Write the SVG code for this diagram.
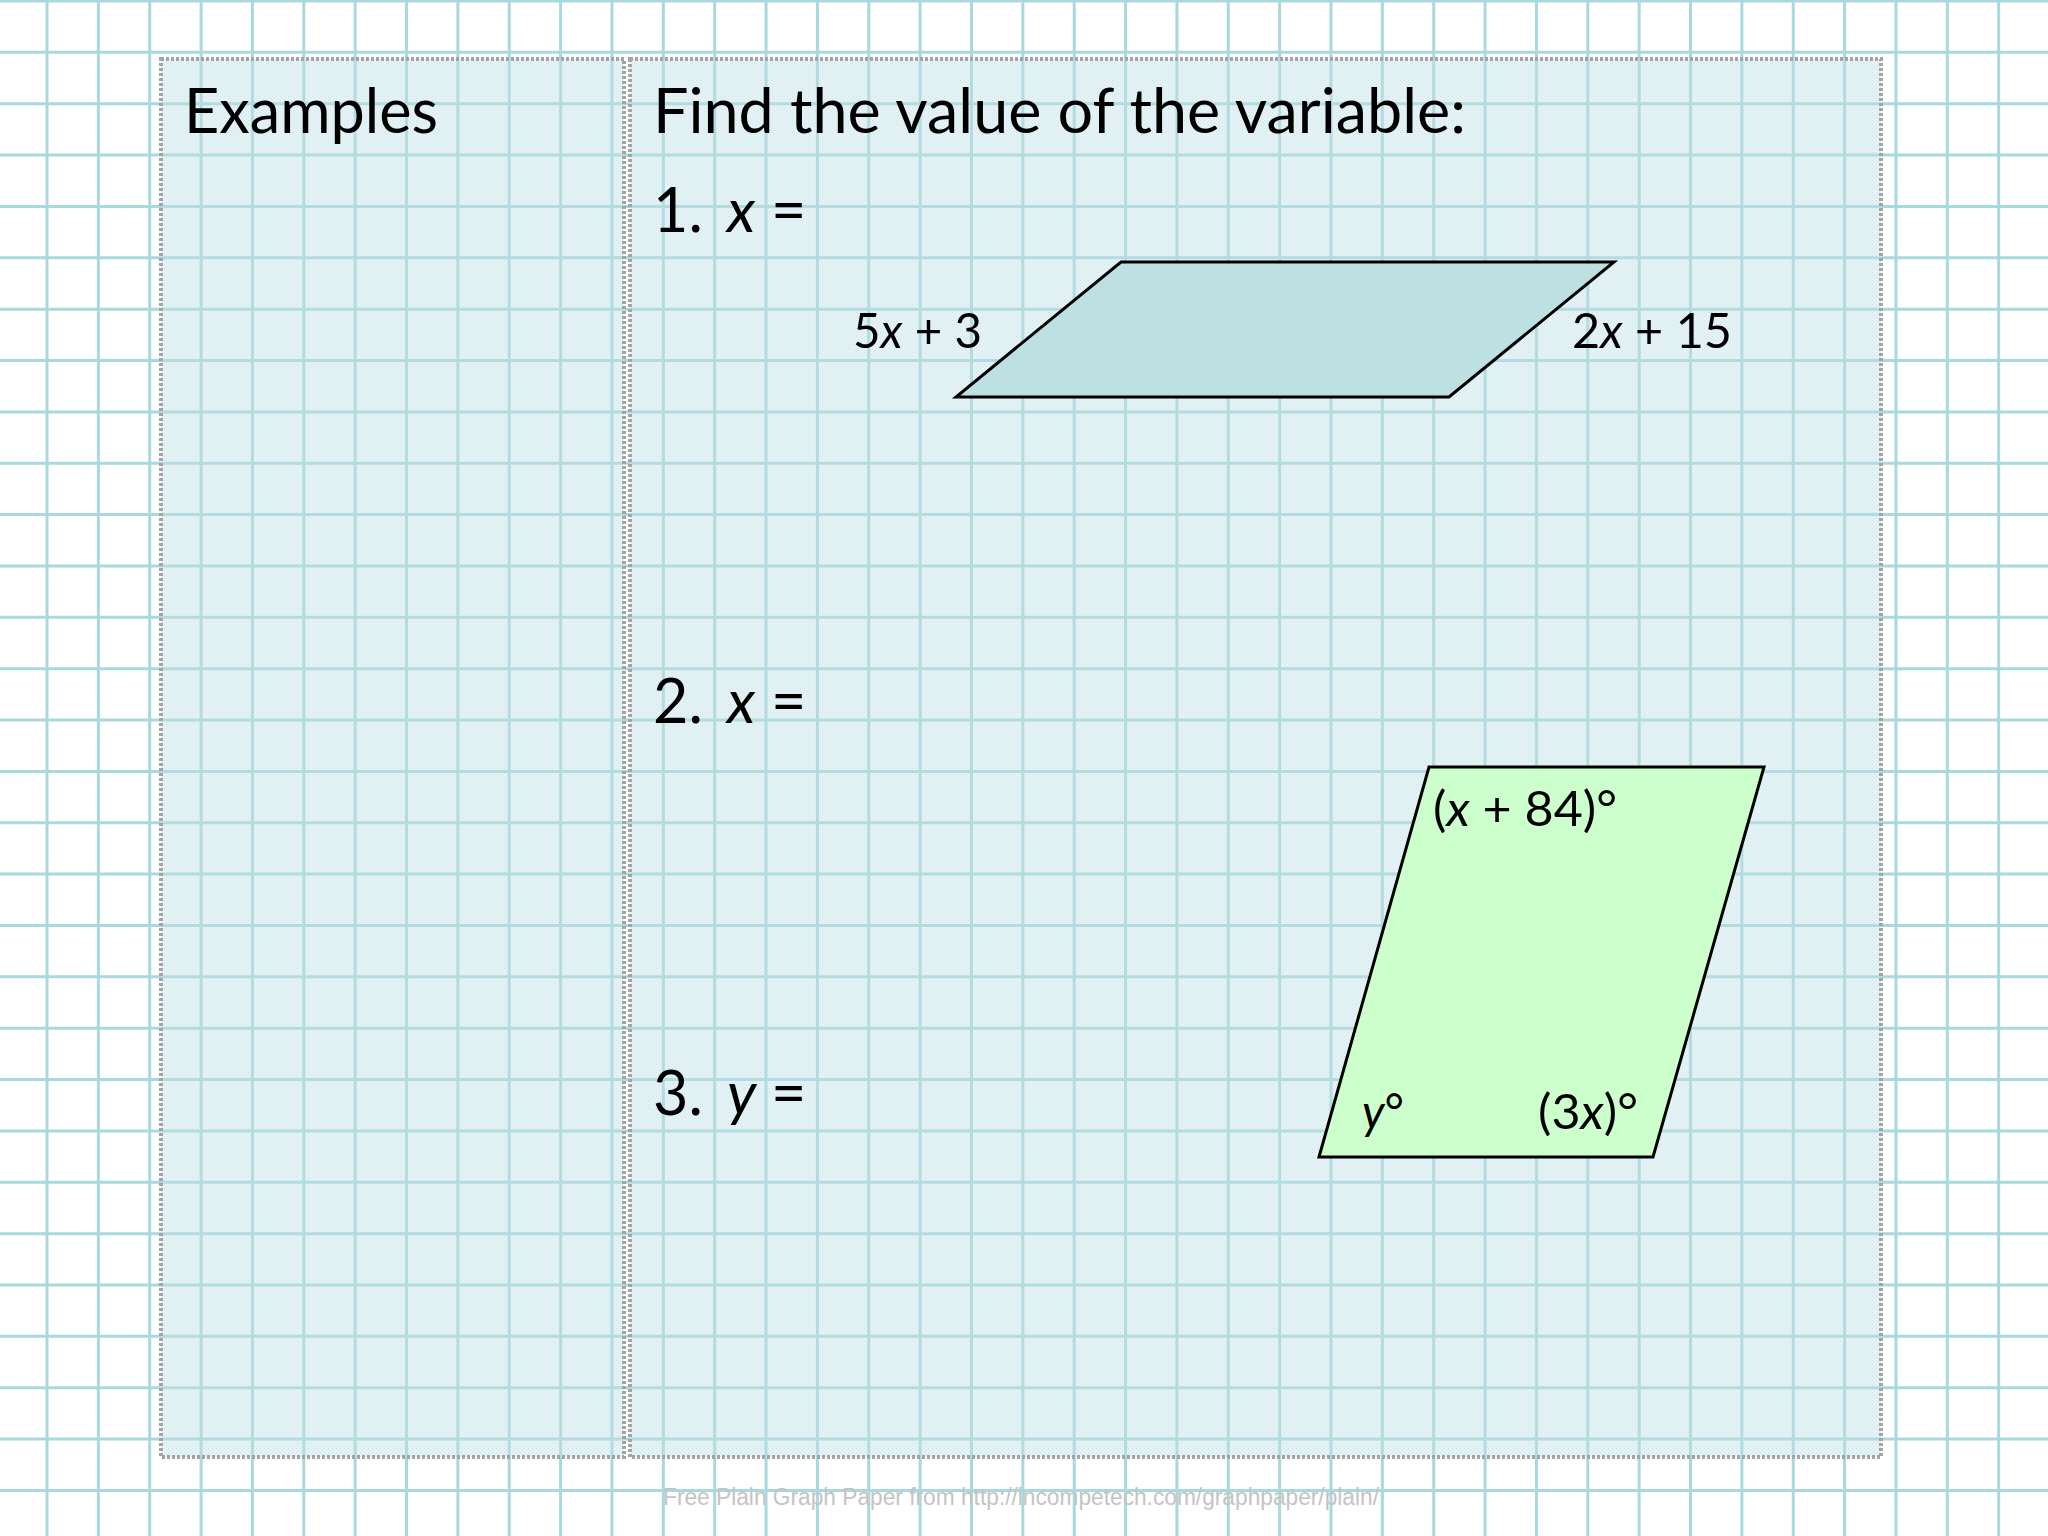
<svg xmlns="http://www.w3.org/2000/svg" width="2048" height="1536" viewBox="0 0 2048 1536">
<defs>
<style>
.grid{stroke:#a9d9dc;stroke-width:3;fill:none}
.panel{fill:#c2e3e9;fill-opacity:0.45;stroke:#a4a4a4;stroke-width:4;stroke-dasharray:3 2}
.t{font-family:Lato,"Open Sans","Liberation Sans",sans-serif;fill:#000}
.big{font-size:61px}
.lab{font-size:49px}
.i{font-style:italic}
.shape{stroke:#000;stroke-width:3;stroke-linejoin:miter}
.foot{font-family:"Liberation Sans",Arial,sans-serif;font-size:23px;fill:#c4c4c4}
</style>
<pattern id="tex" width="4" height="4" patternUnits="userSpaceOnUse">
<rect x="0" y="0" width="1" height="1" fill="#9aa9ad" fill-opacity="0.2"/>
<rect x="2" y="2" width="1" height="1" fill="#9aa9ad" fill-opacity="0.2"/>
</pattern>
</defs>
<rect x="0" y="0" width="2048" height="1536" fill="#ffffff"/>
<g id="grid">
<path class="grid" d="M47 0V1536M98.36 0V1536M149.72 0V1536M201.08 0V1536M252.44 0V1536M303.8 0V1536M355.16 0V1536M406.52 0V1536M457.88 0V1536M509.24 0V1536M560.6 0V1536M611.96 0V1536M663.32 0V1536M714.68 0V1536M766.04 0V1536M817.4 0V1536M868.76 0V1536M920.12 0V1536M971.48 0V1536M1022.84 0V1536M1074.2 0V1536M1125.56 0V1536M1176.92 0V1536M1228.28 0V1536M1279.64 0V1536M1331 0V1536M1382.36 0V1536M1433.72 0V1536M1485.08 0V1536M1536.44 0V1536M1587.8 0V1536M1639.16 0V1536M1690.52 0V1536M1741.88 0V1536M1793.24 0V1536M1844.6 0V1536M1895.96 0V1536M1947.32 0V1536M1998.68 0V1536"/>
<path class="grid" d="M0 1H2048M0 52.36H2048M0 103.72H2048M0 155.08H2048M0 206.44H2048M0 257.8H2048M0 309.16H2048M0 360.52H2048M0 411.88H2048M0 463.24H2048M0 514.6H2048M0 565.96H2048M0 617.32H2048M0 668.68H2048M0 720.04H2048M0 771.4H2048M0 822.76H2048M0 874.12H2048M0 925.48H2048M0 976.84H2048M0 1028.2H2048M0 1079.56H2048M0 1130.92H2048M0 1182.28H2048M0 1233.64H2048M0 1285H2048M0 1336.36H2048M0 1387.72H2048M0 1439.08H2048M0 1490.44H2048"/>
</g>
<g id="panel-left">
<rect class="panel" x="161" y="59" width="463" height="1398"/>
<rect x="163" y="61" width="459" height="1394" fill="url(#tex)"/>
<text class="t big" x="184" y="133" textLength="254" lengthAdjust="spacingAndGlyphs">Examples</text>
</g>
<g id="panel-right">
<rect class="panel" x="630" y="59" width="1251" height="1398"/>
<rect x="632" y="61" width="1247" height="1394" fill="url(#tex)"/>
<text class="t big" x="653" y="133" textLength="813" lengthAdjust="spacingAndGlyphs">Find the value of the variable:</text>
</g>
<g id="item1">
<text class="t big" x="653" y="232">1.</text>
<text class="t big i" x="727" y="232">x</text>
<text class="t big" x="771" y="232">=</text>
</g>
<g id="item2">
<text class="t big" x="653" y="723">2.</text>
<text class="t big i" x="727" y="723">x</text>
<text class="t big" x="771" y="723">=</text>
</g>
<g id="item3">
<text class="t big" x="653" y="1115">3.</text>
<text class="t big i" x="727" y="1115">y</text>
<text class="t big" x="771" y="1115">=</text>
</g>
<g id="parallelogram1">
<polygon class="shape" points="1121,262 1614,262 1449,397 956,397" fill="#bde0e3"/>
<text class="t lab" x="853" y="348" textLength="129" lengthAdjust="spacingAndGlyphs">5<tspan class="i">x</tspan> + 3</text>
<text class="t lab" x="1572" y="348" textLength="160" lengthAdjust="spacingAndGlyphs">2<tspan class="i">x</tspan> + 15</text>
</g>
<g id="parallelogram2">
<polygon class="shape" points="1429,767 1764,767 1653,1157 1319,1157" fill="#ccffcc"/>
<text class="t lab" x="1433" y="826" textLength="184" lengthAdjust="spacingAndGlyphs">(<tspan class="i">x</tspan> + 84)°</text>
<text class="t lab" x="1538" y="1129" textLength="100" lengthAdjust="spacingAndGlyphs">(3<tspan class="i">x</tspan>)°</text>
<text class="t lab" x="1362" y="1129" textLength="42" lengthAdjust="spacingAndGlyphs"><tspan class="i">y</tspan>°</text>
</g>
<text class="foot" x="663" y="1505" textLength="716" lengthAdjust="spacingAndGlyphs">Free Plain Graph Paper from http://incompetech.com/graphpaper/plain/</text>
</svg>
